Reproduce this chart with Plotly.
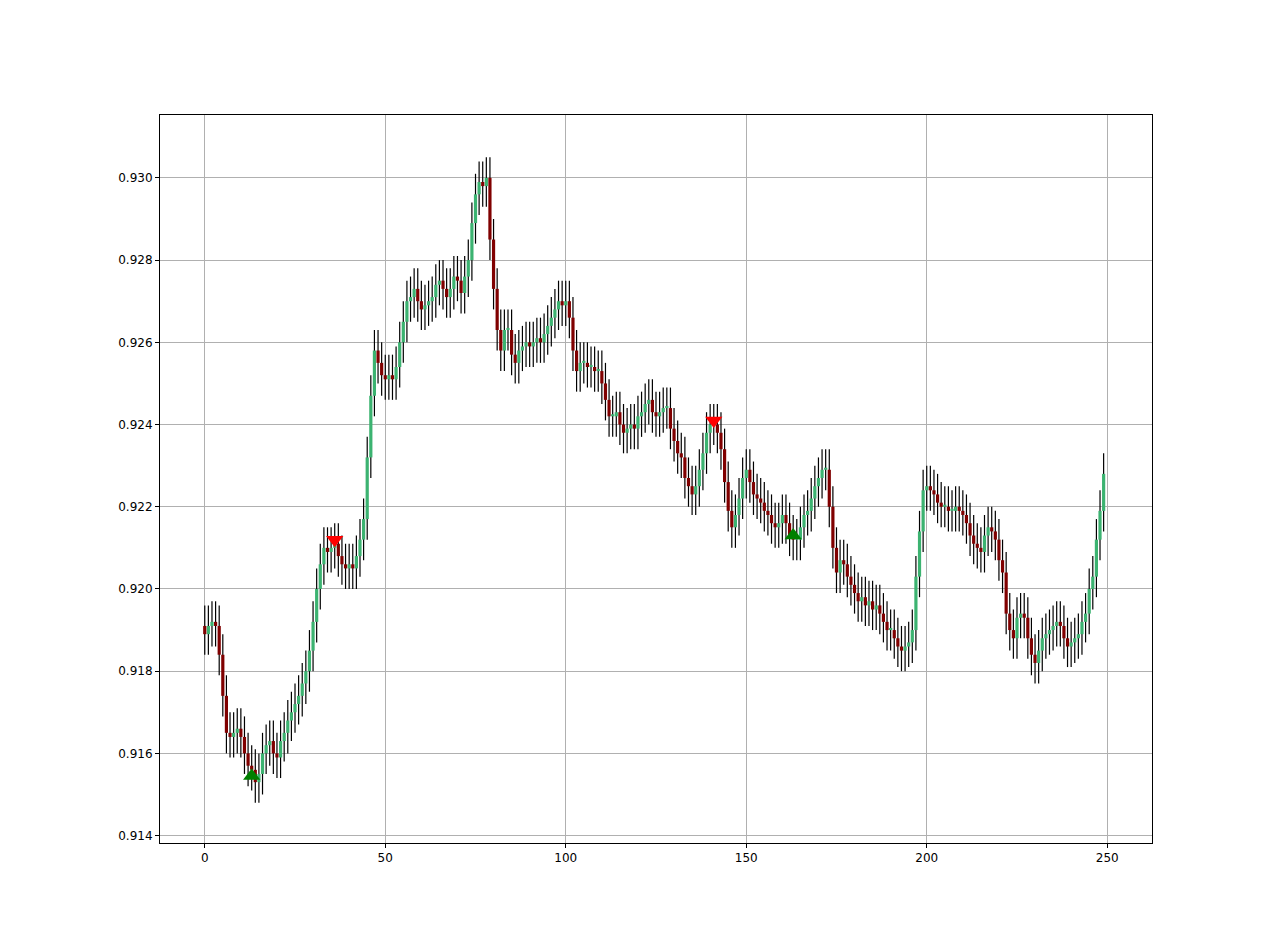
import plotly.graph_objects as go

first_open = 0.9191
closes = [
0.9189,0.9191,0.9192,0.9191,0.9184,0.9174,0.9165,0.9164,0.9165,0.9166,
0.9164,0.9160,0.9157,0.9156,0.9153,0.9155,0.9160,0.9162,0.9163,0.9160,
0.9159,0.9163,0.9165,0.9168,0.9170,0.9172,0.9174,0.9177,0.9180,0.9185,
0.9192,0.9200,0.9206,0.9210,0.9209,0.9210,0.9211,0.9208,0.9206,0.9205,
0.9206,0.9205,0.9208,0.9212,0.9217,0.9232,0.9247,0.9258,0.9255,0.9252,
0.9251,0.9252,0.9251,0.9254,0.9260,0.9265,0.9270,0.9271,0.9273,0.9270,
0.9268,0.9269,0.9270,0.9271,0.9274,0.9275,0.9273,0.9271,0.9273,0.9276,
0.9275,0.9272,0.9276,0.9280,0.9289,0.9296,0.9299,0.9298,0.9300,0.9285,
0.9273,0.9263,0.9258,0.9263,0.9263,0.9257,0.9255,0.9258,0.9259,0.9260,
0.9259,0.9260,0.9261,0.9260,0.9262,0.9264,0.9266,0.9268,0.9270,0.9269,
0.9270,0.9266,0.9258,0.9253,0.9255,0.9255,0.9254,0.9254,0.9253,0.9253,
0.9250,0.9246,0.9242,0.9242,0.9243,0.9240,0.9238,0.9239,0.9240,0.9239,
0.9242,0.9243,0.9245,0.9246,0.9243,0.9242,0.9243,0.9244,0.9244,0.9239,
0.9236,0.9233,0.9232,0.9227,0.9225,0.9223,0.9225,0.9229,0.9233,0.9238,
0.9240,0.9240,0.9238,0.9234,0.9226,0.9219,0.9215,0.9218,0.9222,0.9227,
0.9229,0.9226,0.9223,0.9222,0.9221,0.9219,0.9218,0.9216,0.9215,0.9216,
0.9218,0.9216,0.9213,0.9212,0.9212,0.9215,0.9218,0.9219,0.9222,0.9225,
0.9227,0.9229,0.9229,0.9220,0.9210,0.9204,0.9207,0.9206,0.9203,0.9201,
0.9199,0.9197,0.9198,0.9196,0.9197,0.9195,0.9196,0.9194,0.9192,0.9190,
0.9190,0.9188,0.9186,0.9185,0.9186,0.9187,0.9190,0.9203,0.9214,0.9224,
0.9225,0.9224,0.9223,0.9221,0.9220,0.9220,0.9219,0.9219,0.9220,0.9219,
0.9218,0.9216,0.9213,0.9211,0.9210,0.9209,0.9213,0.9215,0.9214,0.9212,
0.9207,0.9204,0.9194,0.9190,0.9188,0.9193,0.9194,0.9193,0.9188,0.9184,
0.9182,0.9185,0.9188,0.9189,0.9190,0.9191,0.9192,0.9191,0.9188,0.9186,
0.9187,0.9188,0.9189,0.9192,0.9194,0.9200,0.9203,0.9212,0.9219,0.9228,
]
wick = 0.0005
buy_x = [13, 163]
buy_y = [0.91545, 0.9213]
sell_x = [36, 141]
sell_y = [0.9212, 0.9241]

n = len(closes)
opens = [first_open] + closes[:-1]
idx = list(range(n))
highs = [max(o, c) + wick for o, c in zip(opens, closes)]
lows = [min(o, c) - wick for o, c in zip(opens, closes)]

wx, wy = [], []
gx, gy, rx, ry = [], [], [], []
for i in idx:
    wx += [i, i, None]
    wy += [lows[i], highs[i], None]
    lo = min(opens[i], closes[i])
    hi = max(opens[i], closes[i])
    if hi - lo < 0.00005:
        hi = lo + 0.00005
    if closes[i] >= opens[i]:
        gx += [i, i, None]; gy += [lo, hi, None]
    else:
        rx += [i, i, None]; ry += [lo, hi, None]

fig = go.Figure()
fig.add_trace(go.Scatter(x=wx, y=wy, mode='lines', line=dict(color='black', width=1.2), hoverinfo='skip'))
fig.add_trace(go.Scatter(x=gx, y=gy, mode='lines', line=dict(color='#3cb371', width=3.2), hoverinfo='skip'))
fig.add_trace(go.Scatter(x=rx, y=ry, mode='lines', line=dict(color='#800000', width=3.2), hoverinfo='skip'))
fig.add_trace(go.Scatter(x=buy_x, y=buy_y, mode='markers', marker=dict(symbol='triangle-up', size=15, color='green')))
fig.add_trace(go.Scatter(x=sell_x, y=sell_y, mode='markers', marker=dict(symbol='triangle-down', size=15, color='red')))

ax = dict(showline=True, linecolor='black', mirror=True, showgrid=True, gridcolor='#b0b0b0',
          ticks='outside', ticklen=4, tickcolor='black', zeroline=False,
          tickfont=dict(family='DejaVu Sans', size=12, color='black'))
fig.update_layout(width=1280, height=947, margin=dict(l=152, r=136, t=107, b=112),
                  paper_bgcolor='white', plot_bgcolor='white', showlegend=False,
                  xaxis=dict(range=[-12.4, 262.4], tickvals=[0, 50, 100, 150, 200, 250], **ax),
                  yaxis=dict(range=[0.91382, 0.93153], tickvals=[0.914 + 0.002 * k for k in range(9)],
                             tickformat='.3f', **ax))
fig.write_html("out.html")
